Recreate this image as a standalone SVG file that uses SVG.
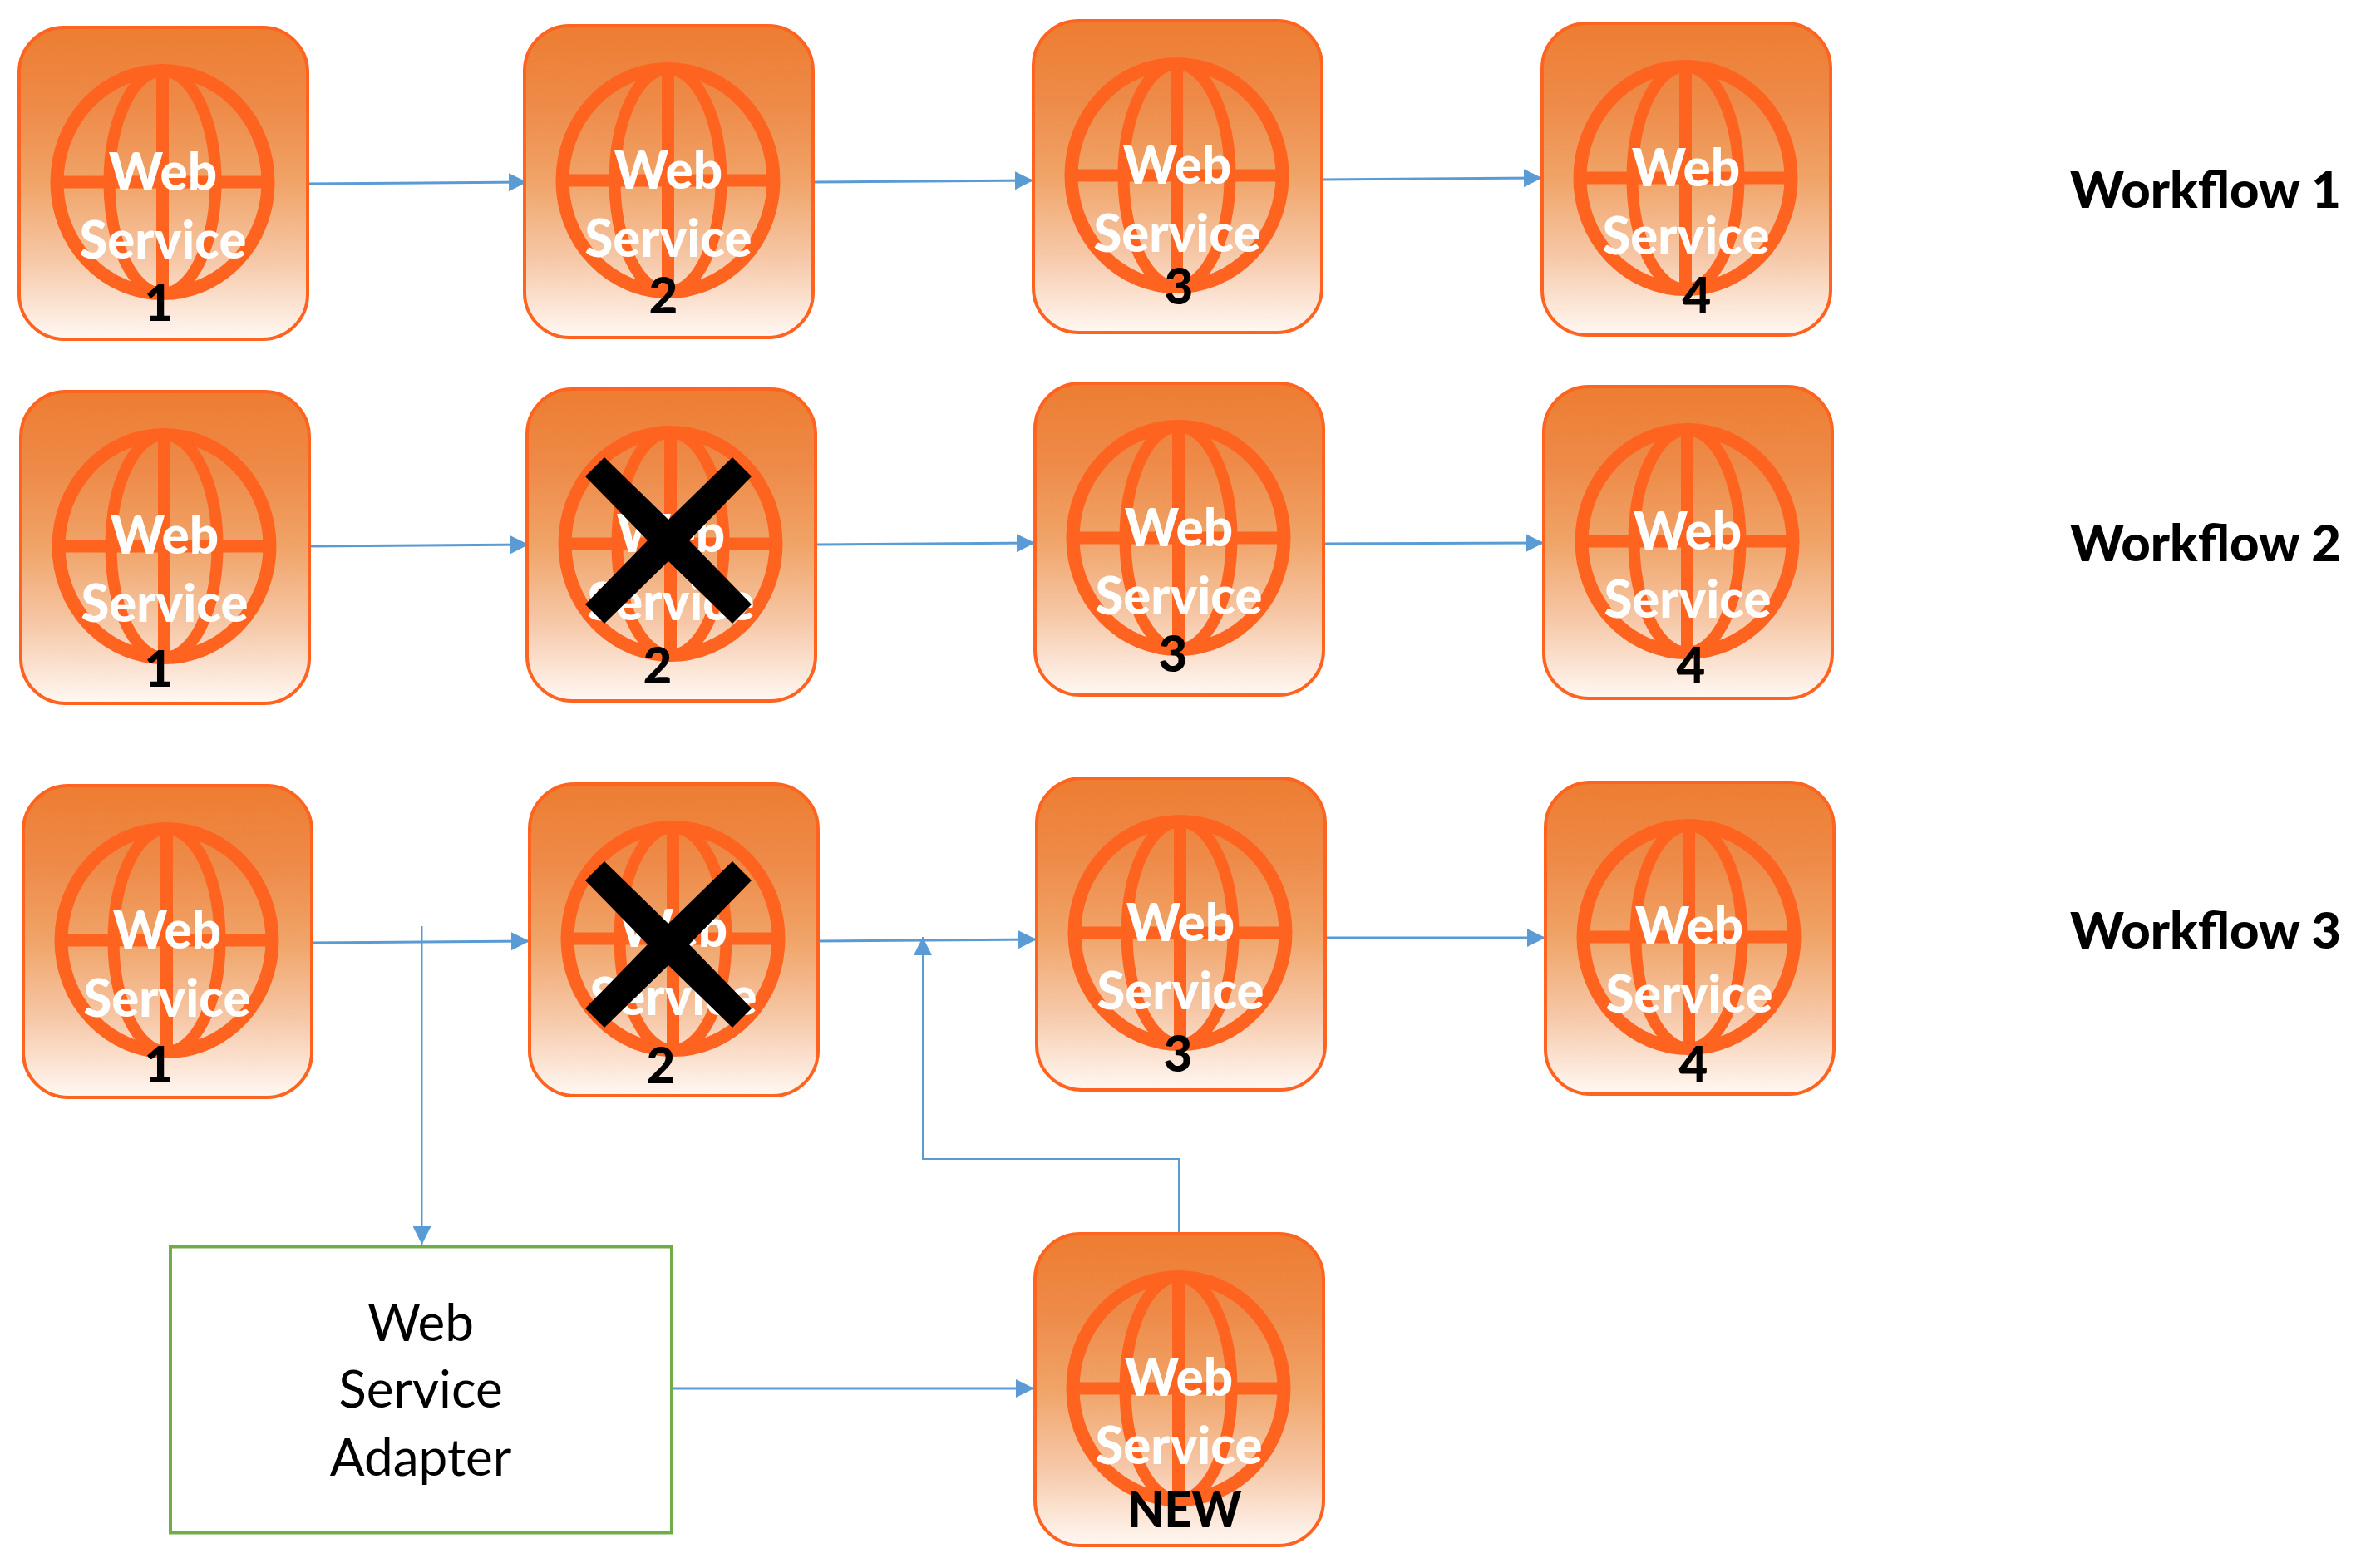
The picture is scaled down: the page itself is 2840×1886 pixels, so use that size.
<svg xmlns="http://www.w3.org/2000/svg" width="2840" height="1886" viewBox="0 0 2840 1886">
<style>
text{font-family:Lato,"Liberation Sans",sans-serif;text-anchor:middle}
.ws{font-weight:900;font-size:62px;fill:#fff}
.num{font-weight:900;font-size:60px;fill:#000}
.wf{font-weight:900;font-size:60px;fill:#000;text-anchor:start}
.ad{font-weight:400;font-size:62px;fill:#000}
.c{fill:none;stroke:#5B9BD5;stroke-width:3}
.c2{fill:none;stroke:#5B9BD5;stroke-width:2}
.g{fill:none;stroke:#FF6320}
</style>
<defs>
<linearGradient id="gr" x1="0" y1="0" x2="0" y2="1">
<stop offset="0" stop-color="#ED7D31"/><stop offset=".25" stop-color="#EE8A48"/><stop offset=".5" stop-color="#F0A468"/><stop offset=".75" stop-color="#F6C8A8"/><stop offset="1" stop-color="#FFF8F3"/>
</linearGradient>
<marker id="a" viewBox="0 0 22 22" refX="22" refY="11" markerWidth="22" markerHeight="22" markerUnits="userSpaceOnUse" orient="auto"><path d="M0 0L22 11L0 22Z" fill="#5B9BD5"/></marker>
<g id="card">
<rect x="0" y="0" width="347" height="375" rx="54" ry="54" fill="url(#gr)" stroke="#FF6320" stroke-width="4"/>
<ellipse class="g" cx="172.500" cy="186" rx="127" ry="134" stroke-width="16"/>
<ellipse class="g" cx="172.500" cy="186" rx="64" ry="134" stroke-width="14"/>
<path class="g" d="M172.500 52V320M45.500 186H299.500" stroke-width="15"/>
</g>
<path id="x" d="M-77-100L0-25L77-100L100-77L25 0L100 77L77 100L0 25L-77 100L-100 77L-25 0L-100-77Z" fill="#000"/>
</defs>
<g id="connectors">
<path class="c" marker-end="url(#a)" d="M370 221L634 219"/>
<path class="c" marker-end="url(#a)" d="M980 219L1243 217"/>
<path class="c" marker-end="url(#a)" d="M1590 216L1855 214"/>
<path class="c" marker-end="url(#a)" d="M371 657L636 655"/>
<path class="c" marker-end="url(#a)" d="M982 655L1245 653"/>
<path class="c" marker-end="url(#a)" d="M1592 654L1857 653"/>
<path class="c" marker-end="url(#a)" d="M375 1134L637 1132"/>
<path class="c" marker-end="url(#a)" d="M983 1132L1247 1130"/>
<path class="c" marker-end="url(#a)" d="M1595 1128L1859 1128"/>
<path class="c2" marker-end="url(#a)" d="M507.500 1114V1497"/>
<path class="c2" marker-end="url(#a)" d="M1418 1491V1394H1110V1127"/>
<path class="c" marker-end="url(#a)" d="M809 1670L1244 1670"/>
</g>
<g id="n1-1"><use href="#card" x="23" y="33"/><text class="ws" x="196" y="229">Web</text><text class="ws" x="196" y="311" textLength="201" lengthAdjust="spacingAndGlyphs">Service</text><text class="num" x="191" y="386">1</text></g>
<g id="n1-2"><use href="#card" x="631" y="31"/><text class="ws" x="804" y="227">Web</text><text class="ws" x="804" y="309" textLength="201" lengthAdjust="spacingAndGlyphs">Service</text><text class="num" x="798" y="377">2</text></g>
<g id="n1-3"><use href="#card" x="1243" y="25"/><text class="ws" x="1416" y="221">Web</text><text class="ws" x="1416" y="303" textLength="201" lengthAdjust="spacingAndGlyphs">Service</text><text class="num" x="1418" y="366">3</text></g>
<g id="n1-4"><use href="#card" x="1855" y="28"/><text class="ws" x="2028" y="224">Web</text><text class="ws" x="2028" y="306" textLength="201" lengthAdjust="spacingAndGlyphs">Service</text><text class="num" x="2041" y="377">4</text></g>
<g id="n2-1"><use href="#card" x="25" y="471"/><text class="ws" x="198" y="666">Web</text><text class="ws" x="198" y="748" textLength="201" lengthAdjust="spacingAndGlyphs">Service</text><text class="num" x="191" y="826">1</text></g>
<g id="n2-2"><use href="#card" x="634" y="468"/><text class="ws" x="807" y="664">Web</text><text class="ws" x="807" y="746" textLength="201" lengthAdjust="spacingAndGlyphs">Service</text><use href="#x" x="804" y="650"/><text class="num" x="791" y="822">2</text></g>
<g id="n2-3"><use href="#card" x="1245" y="461"/><text class="ws" x="1418" y="657">Web</text><text class="ws" x="1418" y="739" textLength="201" lengthAdjust="spacingAndGlyphs">Service</text><text class="num" x="1411" y="808">3</text></g>
<g id="n2-4"><use href="#card" x="1857" y="465"/><text class="ws" x="2030" y="661">Web</text><text class="ws" x="2030" y="743" textLength="201" lengthAdjust="spacingAndGlyphs">Service</text><text class="num" x="2034" y="822">4</text></g>
<g id="n3-1"><use href="#card" x="28" y="945"/><text class="ws" x="201" y="1141">Web</text><text class="ws" x="201" y="1223" textLength="201" lengthAdjust="spacingAndGlyphs">Service</text><text class="num" x="191" y="1302">1</text></g>
<g id="n3-2"><use href="#card" x="637" y="943"/><text class="ws" x="810" y="1139">Web</text><text class="ws" x="810" y="1221" textLength="201" lengthAdjust="spacingAndGlyphs">Service</text><use href="#x" x="804" y="1136"/><text class="num" x="795" y="1303">2</text></g>
<g id="n3-3"><use href="#card" x="1247" y="936"/><text class="ws" x="1420" y="1132">Web</text><text class="ws" x="1420" y="1214" textLength="201" lengthAdjust="spacingAndGlyphs">Service</text><text class="num" x="1417" y="1289">3</text></g>
<g id="n3-4"><use href="#card" x="1859" y="941"/><text class="ws" x="2032" y="1136">Web</text><text class="ws" x="2032" y="1218" textLength="201" lengthAdjust="spacingAndGlyphs">Service</text><text class="num" x="2037" y="1302">4</text></g>
<g id="new"><use href="#card" x="1245" y="1484"/><text class="ws" x="1418" y="1679">Web</text><text class="ws" x="1418" y="1761" textLength="201" lengthAdjust="spacingAndGlyphs">Service</text><text class="num" x="1425" y="1837" textLength="137" lengthAdjust="spacingAndGlyphs">NEW</text></g>
<g id="adapter"><rect x="205" y="1499.500" width="603" height="344" fill="#fff" stroke="#70AD47" stroke-width="4"/>
<text class="ad" x="506" y="1613">Web</text><text class="ad" x="506" y="1693">Service</text><text class="ad" x="506" y="1775">Adapter</text></g>
<g id="labels"><text class="wf" x="2490" y="250" textLength="326" lengthAdjust="spacingAndGlyphs">Workflow 1</text><text class="wf" x="2490" y="675" textLength="326" lengthAdjust="spacingAndGlyphs">Workflow 2</text><text class="wf" x="2490" y="1141" textLength="326" lengthAdjust="spacingAndGlyphs">Workflow 3</text></g>
</svg>
